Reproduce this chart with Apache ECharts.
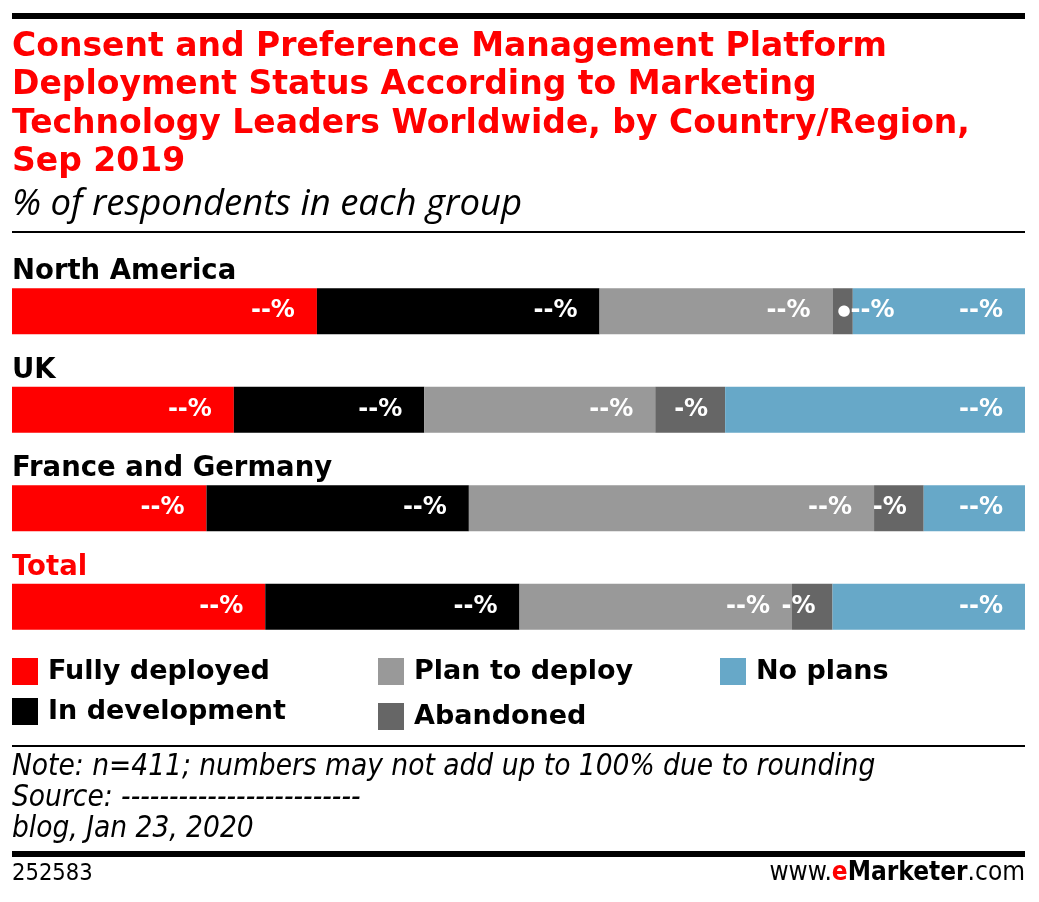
<!DOCTYPE html>
<html>
<head>
<meta charset="utf-8">
<script src="https://cdn.jsdelivr.net/npm/echarts@6/dist/echarts.min.js"></script>
<style>
  html, body { margin: 0; padding: 0; background: #fff; }
  #main { width: 1039px; height: 902px; }
</style>
</head>
<body>
<div id="main"></div>
<script>
var categories = ['North America', 'UK', 'France and Germany', 'Total'];
var seriesNames = ['Fully deployed', 'In development', 'Plan to deploy', 'Abandoned', 'No plans'];
var fullyDeployed = [30.1, 21.9, 19.2, 25.0];
var inDevelopment = [27.9, 18.8, 25.9, 25.1];
var planToDeploy = [23.0, 22.8, 40.0, 26.9];
var abandoned = [2.0, 6.9, 4.9, 4.0];
var noPlans = [17.0, 29.6, 10.0, 19.0];
var labelFull = ['--%', '--%', '--%', '--%'];
var labelDev = ['--%', '--%', '--%', '--%'];
var labelPlan = ['--%', '--%', '--%', '--%'];
var labelAband = ['-%', '-%', '-%', '-%'];
var labelNone = ['--%', '--%', '--%', '--%'];

var colors = ['#ff0000', '#000000', '#999999', '#666666', '#67a8c8'];
var allValues = [fullyDeployed, inDevelopment, planToDeploy, abandoned, noPlans];
var allLabels = [labelFull, labelDev, labelPlan, labelAband, labelNone];

var myChart = echarts.init(document.getElementById('main'));

var labelFont = {
    color: '#fff',
    fontFamily: 'DejaVu Sans',
    fontWeight: 'bold',
    fontSize: 24
};
var narrow = 'Liberation Sans Narrow, DejaVu Sans Condensed, Open Sans';

var series = seriesNames.map(function (name, i) {
    return {
        name: name,
        type: 'bar',
        stack: 'all',
        barWidth: 46,
        itemStyle: { color: colors[i] },
        label: Object.assign({
            show: true,
            position: 'insideRight',
            distance: i === 3 ? 17 : 22,
            formatter: function (p) { return allLabels[i][p.dataIndex]; }
        }, labelFont),
        data: allValues[i].map(function (v, j) {
            // small North America "abandoned" slice: label with a dot leader
            if (i === 3 && j === 0) {
                return {
                    value: v,
                    label: Object.assign({
                        show: true,
                        position: 'insideLeft',
                        distance: 5,
                        formatter: '{dot|●}{ln|-}' + allLabels[i][j],
                        rich: {
                            dot: { color: '#fff', fontSize: 15, fontFamily: 'DejaVu Sans' },
                            ln: { color: '#fff', fontSize: 24, fontFamily: 'DejaVu Sans', fontWeight: 'bold' }
                        }
                    }, labelFont)
                };
            }
            return v;
        })
    };
});

var legendText = { fontFamily: 'DejaVu Sans', fontWeight: 'bold', fontSize: 27, color: '#000', padding: [0, 0, 0, 5] };

var option = {
    animation: false,
    backgroundColor: '#fff',
    title: [{
        text: 'Consent and Preference Management Platform\nDeployment Status According to Marketing\nTechnology Leaders Worldwide, by Country/Region,\nSep 2019',
        left: 12,
        top: 28,
        padding: 0,
        textStyle: {
            color: '#ff0000',
            fontFamily: 'DejaVu Sans',
            fontWeight: 'bold',
            fontSize: 33,
            lineHeight: 38.5
        }
    }, {
        text: '% of respondents in each group',
        left: 12,
        top: 186,
        padding: 0,
        textStyle: {
            color: '#000',
            fontFamily: 'Open Sans',
            fontStyle: 'italic',
            fontWeight: 'normal',
            fontSize: 36.5
        }
    }],
    legend: [{
        orient: 'vertical',
        left: 12,
        top: 658,
        padding: 0,
        itemWidth: 26,
        itemHeight: 27,
        itemGap: 13,
        icon: 'rect',
        data: ['Fully deployed', 'In development'],
        textStyle: legendText
    }, {
        orient: 'vertical',
        left: 378,
        top: 658,
        padding: 0,
        itemWidth: 26,
        itemHeight: 27,
        itemGap: 18,
        icon: 'rect',
        data: ['Plan to deploy', 'Abandoned'],
        textStyle: legendText
    }, {
        orient: 'vertical',
        left: 720,
        top: 658,
        padding: 0,
        itemWidth: 26,
        itemHeight: 27,
        icon: 'rect',
        data: ['No plans'],
        textStyle: legendText
    }],
    grid: {
        left: 12,
        right: 14,
        top: 262,
        bottom: 246,
        containLabel: false
    },
    xAxis: {
        type: 'value',
        min: 0,
        max: 100,
        show: false
    },
    yAxis: {
        type: 'category',
        inverse: true,
        data: categories,
        axisLine: { show: false },
        axisTick: { show: false },
        axisLabel: {
            inside: true,
            margin: 0,
            align: 'left',
            verticalAlign: 'bottom',
            padding: [0, 0, 25, 0],
            fontFamily: 'DejaVu Sans',
            fontWeight: 'bold',
            fontSize: 27.5,
            color: '#000',
            formatter: function (v) {
                return v === 'Total' ? '{red|' + v + '}' : v;
            },
            rich: {
                red: { color: '#ff0000', fontFamily: 'DejaVu Sans', fontWeight: 'bold', fontSize: 27.5 }
            }
        }
    },
    graphic: [
        { type: 'rect', shape: { x: 12, y: 13, width: 1013, height: 6 }, style: { fill: '#000' } },
        { type: 'rect', shape: { x: 12, y: 231, width: 1013, height: 2 }, style: { fill: '#000' } },
        { type: 'rect', shape: { x: 12, y: 745, width: 1013, height: 2 }, style: { fill: '#000' } },
        { type: 'rect', shape: { x: 12, y: 851, width: 1013, height: 6 }, style: { fill: '#000' } },
        {
            type: 'text', left: 12, top: 752,
            style: {
                text: 'Note: n=411; numbers may not add up to 100% due to rounding\nSource: -------------------------\nblog, Jan 23, 2020',
                fill: '#000',
                fontFamily: narrow,
                fontStyle: 'italic',
                fontSize: 29.5,
                lineHeight: 31
            }
        },
        {
            type: 'text', left: 12, top: 862,
            style: { text: '252583', fill: '#000', fontFamily: narrow, fontSize: 23.5 }
        },
        {
            type: 'text', right: 14, top: 860,
            style: {
                text: '{a|www.}{b|e}{c|Marketer}{a|.com}',
                rich: {
                    a: { fill: '#000', fontFamily: narrow, fontSize: 26 },
                    b: { fill: '#ff0000', fontFamily: narrow, fontWeight: 'bold', fontSize: 26 },
                    c: { fill: '#000', fontFamily: narrow, fontWeight: 'bold', fontSize: 26 }
                }
            }
        }
    ],
    series: series
};

myChart.setOption(option);
</script>
</body>
</html>
